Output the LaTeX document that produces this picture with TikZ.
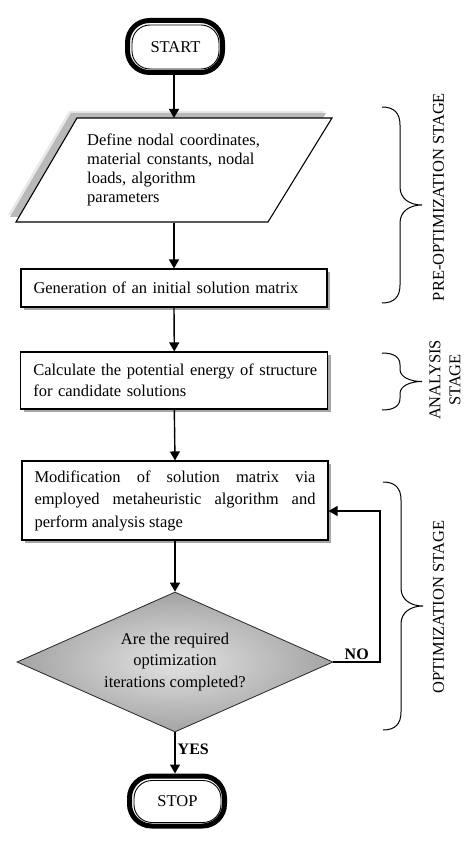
\documentclass[tikz,border=0pt]{standalone}
\usepackage{fontspec}
\setmainfont{Liberation Serif}
\usetikzlibrary{arrows.meta,shadows,shapes.geometric}
\begin{document}
\begin{tikzpicture}[x=1pt,y=-1pt,
  txt/.style={font=\fontsize{16.5}{20}\selectfont},
  box/.style={draw, line width=1.1pt, fill=white, inner sep=0pt,
    drop shadow={shadow xshift=3pt, shadow yshift=-3pt, fill=gray!70, opacity=1}},
  arr/.style={line width=1.4pt, -{Triangle[length=9pt,width=10pt]}},
  brc/.style={line width=1pt},
  lbl/.style={font=\fontsize{16.5}{20}\selectfont, rotate=90, align=center, inner sep=0pt},
  yn/.style={font=\fontsize{16}{19}\selectfont\bfseries, inner sep=2pt}
]
\useasboundingbox (0,0) rectangle (474,842);

% START
\node[draw, line width=5pt, rounded corners=22pt, minimum width=95pt, minimum height=52pt, inner sep=0pt] (start) at (175,46.5) {};
\node[draw, line width=0.9pt, rounded corners=18pt, minimum width=87pt, minimum height=44pt, inner sep=0pt, txt] (startin) at (175.5,47) {START};

% parallelogram (input)
\fill[gray!18] (69,111) -- (324,111) -- (260,215) -- (8,215) -- cycle;
\fill[gray!55] (71,113) -- (326,113) -- (262,217) -- (10,217) -- cycle;
\coordinate (pa) at (77,118);
\coordinate (pb) at (332,118);
\coordinate (pc) at (268,222);
\coordinate (pd) at (16,222);
\draw[line width=1.1pt, fill=white] (pa) -- (pb) -- (pc) -- (pd) -- cycle;
\node[anchor=west, text width=200pt, align=left, inner sep=0pt, font=\fontsize{16.5}{19}\selectfont] (define) at (87,170)
  {Define nodal coordinates,\\material constants, nodal\\loads, algorithm\\parameters};
\coordinate (ptop) at (174,118);
\coordinate (pbot) at (174,223);

% boxes
\node[box, txt, minimum width=306pt, minimum height=38pt, text width=281pt, align=left] (gen) at (174,288)
  {Generation of an initial solution matrix};
\node[box, minimum width=307pt, minimum height=57pt, text width=282pt, align=left, font=\fontsize{16.5}{21}\selectfont] (calc) at (174.3,380.5)
  {\hbox{Calculate the potential energy of structure}\\for candidate solutions};
\node[box, minimum width=306pt, minimum height=79pt, text width=281pt, align=justify, font=\fontsize{16.5}{22.5}\selectfont] (modif) at (175,500.5)
  {Modification of solution matrix via\linebreak employed metaheuristic algorithm and\linebreak perform analysis stage};

% decision
\node[diamond, draw=gray!30!black, line width=0.8pt, shading=radial, inner color=gray!22, outer color=gray!72,
  minimum width=316pt, minimum height=140pt, inner sep=0pt, aspect=2.26, align=center,
  font=\fontsize{16.5}{21.5}\selectfont] (dec) at (175,662)
  {Are the required\\optimization\\iterations completed?};

% STOP
\node[draw, line width=5pt, rounded corners=22pt, minimum width=95pt, minimum height=50pt, inner sep=0pt] (stop) at (177,801) {};
\node[draw, line width=0.9pt, rounded corners=18pt, minimum width=87pt, minimum height=42pt, inner sep=0pt, txt] (stopin) at (177.5,801.5) {STOP};

% connectors
\draw[arr] (start.south -| ptop) -- (ptop);
\draw[arr] (pbot) -- (pbot |- gen.north);
\draw[arr] (gen.south) -- (calc.north);
\draw[arr] (calc.south) -- (modif.north);
\draw[arr] (modif.south) -- (dec.north);
\draw[arr] (dec.south) -- node[yn, anchor=west, pos=0.42] (yes) {YES} (dec.south |- stop.north);
\coordinate (nocorner) at (380,662);
\coordinate (backin) at (380,511);
\draw[arr] (dec.east) -- node[yn, above] (no) {NO} (nocorner) -- (backin) -- (backin -| modif.east);

% braces
\draw[brc] (382,107) .. controls (394,107) and (400,113) .. (400,125) -- (400,187)
  .. controls (400,199) and (410,205) .. (422,205)
  .. controls (410,205) and (400,211) .. (400,223) -- (400,285)
  .. controls (400,297) and (394,303) .. (382,303);
\draw[brc] (382,353) .. controls (394,353) and (400,357) .. (400,365) -- (400,369.5)
  .. controls (400,377) and (410,381.5) .. (422,381.5)
  .. controls (410,381.5) and (400,386) .. (400,393.5) -- (400,398)
  .. controls (400,406) and (394,410) .. (382,410);
\draw[brc] (383,482) .. controls (395,482) and (401,488) .. (401,500) -- (401,588)
  .. controls (401,600) and (411,606) .. (423,606)
  .. controls (411,606) and (401,612) .. (401,624) -- (401,712)
  .. controls (401,724) and (395,730) .. (383,730);

% stage labels
\node[lbl] (pre) at (438.5,197) {PRE-OPTIMIZATION STAGE};
\node[lbl] (ana) at (445,380) {ANALYSIS\\STAGE};
\node[lbl] (opt) at (438.5,607) {OPTIMIZATION STAGE};
\end{tikzpicture}
\end{document}
